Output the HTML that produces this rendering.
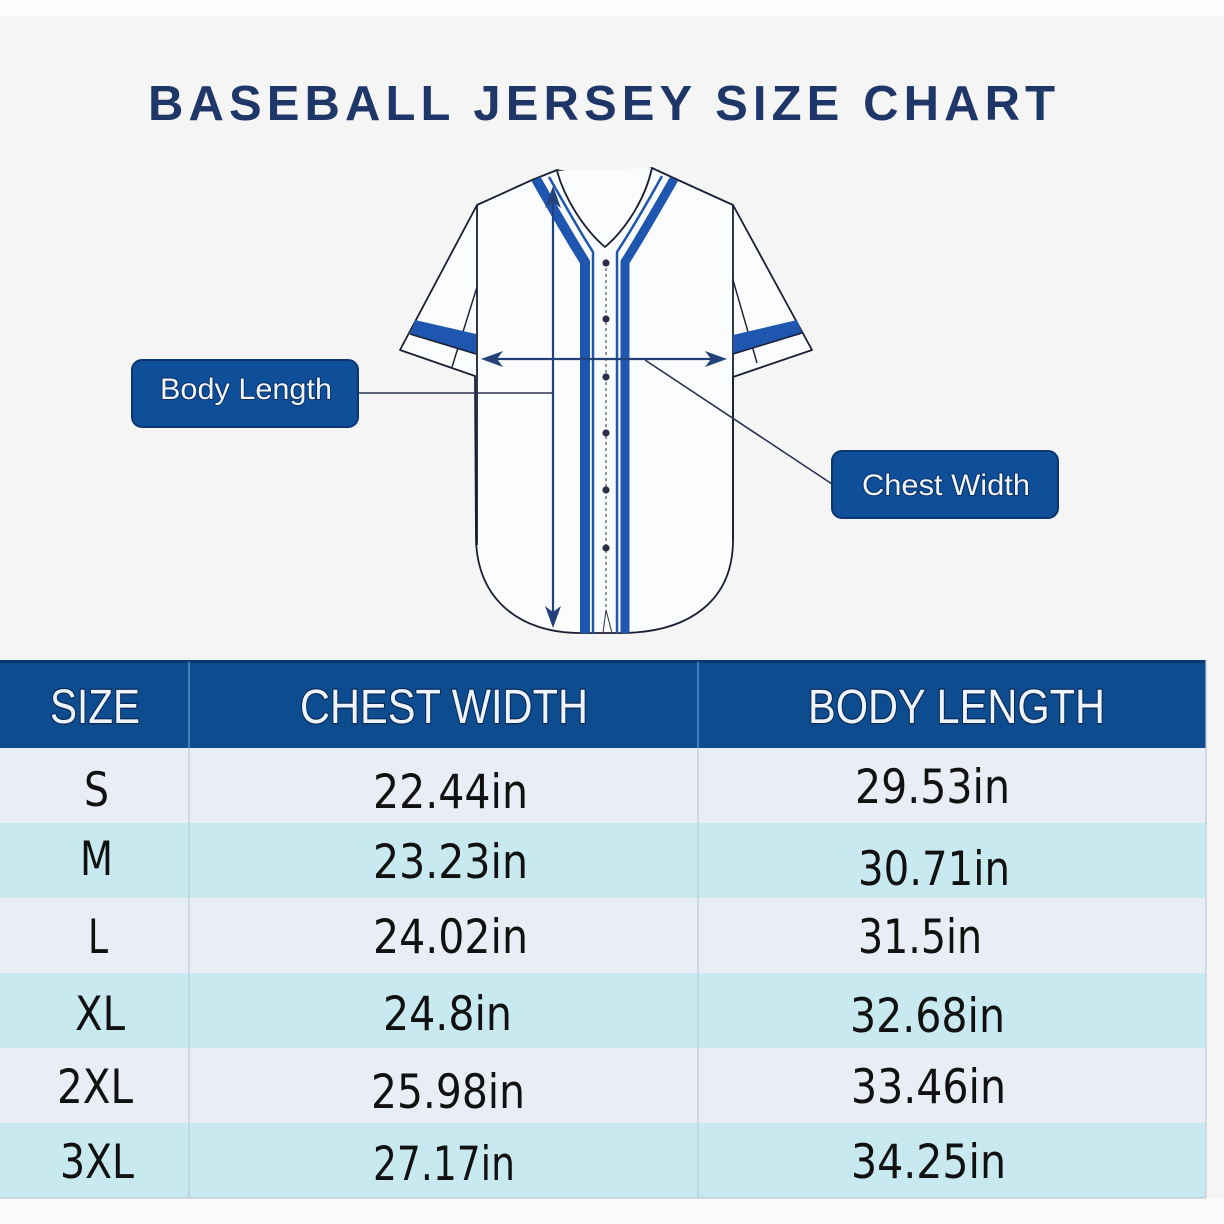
<!DOCTYPE html>
<html>
<head>
<meta charset="utf-8">
<style>
html,body{margin:0;padding:0;background:#f5f5f5;}
svg{display:block;}
.t{font-family:"DejaVu Sans Condensed","DejaVu Sans","Liberation Sans",sans-serif;font-stretch:condensed;font-size:47px;fill:#111;}
.h{font-family:"Liberation Sans Narrow","Liberation Sans",sans-serif;font-size:48px;fill:#eef4fb;stroke:#0a2a58;stroke-width:2.5px;paint-order:stroke;}
.c{font-family:"Liberation Sans",sans-serif;font-size:30px;fill:#f2f6fb;stroke:#08306a;stroke-width:2px;paint-order:stroke;}
</style>
</head>
<body>
<svg width="1224" height="1224" viewBox="0 0 1224 1224" xmlns="http://www.w3.org/2000/svg">
  <rect x="0" y="0" width="1224" height="1224" fill="#f5f5f5"/>
  <rect x="0" y="0" width="1224" height="16" fill="#fdfdfd"/>
  <rect x="0" y="1198" width="1224" height="26" fill="#fafafa"/>

  <!-- Title -->
  <text x="148" y="120" textLength="907" lengthAdjust="spacing" font-family="Liberation Sans, sans-serif" font-weight="bold" font-size="49" fill="#1e3768">BASEBALL JERSEY SIZE CHART</text>

  <!-- Jersey -->
  <g stroke="#1a1f33" stroke-width="1.8" fill="#fbfcfd" stroke-linejoin="round">
    <path d="M532,180 L477,205 L400,350 L475,376 L476,540 C478,600 520,633 580,633 L620,633 C690,633 733,600 733,540 L733,377 L812,350 L733,205 L678,180 L652,168 C630,176 580,176 557,170 Z"/>
    <line x1="477" y1="205" x2="477" y2="545"/>
    <line x1="733" y1="205" x2="733" y2="540"/>
    <line x1="477" y1="287" x2="452" y2="367" stroke-width="1.4"/>
    <line x1="733" y1="280" x2="757" y2="363" stroke-width="1.4"/>
    <path d="M557,171 C565,200 585,230 605,247 C625,230 645,200 652,168" fill="#fbfcfd"/>
  </g>
  <!-- sleeve bands -->
  <polygon points="415,320 476,334 476,354 410,334" fill="#1f56b0"/>
  <polygon points="733,335 797,320 802,333 733,354" fill="#1f56b0"/>
  <g stroke="#1a1f33" stroke-width="1.5" fill="none">
    <line x1="410" y1="334" x2="476" y2="354"/>
    <line x1="733" y1="354" x2="802" y2="333"/>
  </g>
  <!-- collar & placket -->
  <g fill="none" stroke="#1f56b0" stroke-linejoin="round">
    <path d="M536,179 C552,207 568,235 585,262 L585,633" stroke-width="10"/>
    <path d="M674,179 C658,207 642,235 625,262 L625,633" stroke-width="9"/>
    <path d="M549,177 C565,205 580,232 593,252 L593,633" stroke-width="2.5"/>
    <path d="M662,176 C646,205 630,232 617,252 L617,633" stroke-width="2.5"/>
  </g>
  <line x1="606" y1="262" x2="606" y2="615" stroke="#333" stroke-width="1" stroke-dasharray="3,3"/>
  <g fill="#2a2f45">
    <circle cx="606" cy="263" r="3.6"/>
    <circle cx="606" cy="319" r="3.6"/>
    <circle cx="606" cy="377" r="3.6"/>
    <circle cx="606" cy="433" r="3.6"/>
    <circle cx="606" cy="490" r="3.6"/>
    <circle cx="606" cy="548" r="3.6"/>
  </g>
  <path d="M606,610 L603,633 M606,610 L612,633" stroke="#333" stroke-width="1" fill="none"/>

  <!-- measurement arrows -->
  <g stroke="#24427a" stroke-width="2.2" fill="none">
    <line x1="553" y1="195" x2="553" y2="620"/>
    <line x1="490" y1="359" x2="718" y2="359"/>
  </g>
  <g fill="#24427a">
    <path d="M553,186 L545,208 L553,202 L561,208 Z"/>
    <path d="M553,628 L545,606 L553,612 L561,606 Z"/>
    <path d="M481,359 L503,351 L497,359 L503,367 Z"/>
    <path d="M727,359 L705,351 L711,359 L705,367 Z"/>
  </g>

  <!-- callout lines -->
  <line x1="359" y1="393" x2="553" y2="393" stroke="#2a3350" stroke-width="1.6"/>
  <line x1="645" y1="360" x2="832" y2="484" stroke="#2a3350" stroke-width="1.6"/>

  <!-- callouts -->
  <rect x="132" y="360" width="226" height="67" rx="10" fill="#0f4f99" stroke="#0a3570" stroke-width="2"/>
  <text class="c" x="160" y="399" textLength="172" lengthAdjust="spacingAndGlyphs">Body Length</text>
  <rect x="832" y="451" width="226" height="67" rx="10" fill="#0f4f99" stroke="#0a3570" stroke-width="2"/>
  <text class="c" x="862" y="495" textLength="168" lengthAdjust="spacingAndGlyphs">Chest Width</text>

  <!-- Table header -->
  <rect x="0" y="660" width="1206" height="88" fill="#0e4c90"/>
  <rect x="0" y="660" width="1206" height="3" fill="#0a3a74"/>
  <line x1="189" y1="662" x2="189" y2="748" stroke="#5a8cc8" stroke-width="1.5"/>
  <line x1="698" y1="662" x2="698" y2="748" stroke="#5a8cc8" stroke-width="1.5"/>
  <text class="h" x="50" y="723" textLength="90" lengthAdjust="spacingAndGlyphs">SIZE</text>
  <text class="h" x="300" y="723" textLength="288" lengthAdjust="spacingAndGlyphs">CHEST WIDTH</text>
  <text class="h" x="808" y="723" textLength="297" lengthAdjust="spacingAndGlyphs">BODY LENGTH</text>

  <!-- Rows -->
  <rect x="0" y="748" width="1206" height="75" fill="#e9eef6"/>
  <rect x="0" y="823" width="1206" height="75" fill="#c9e9f1"/>
  <rect x="0" y="898" width="1206" height="75" fill="#e9eef6"/>
  <rect x="0" y="973" width="1206" height="75" fill="#c9e9f1"/>
  <rect x="0" y="1048" width="1206" height="75" fill="#e9eef6"/>
  <rect x="0" y="1123" width="1206" height="75" fill="#c9e9f1"/>
  <g stroke="#bccad4" stroke-width="1.2">
    <line x1="189" y1="748" x2="189" y2="1198"/>
    <line x1="698" y1="748" x2="698" y2="1198"/>
    <line x1="1206" y1="660" x2="1206" y2="1198"/>
    <line x1="0" y1="1198" x2="1206" y2="1198"/>
  </g>

  <text class="t" x="84" y="806" textLength="25" lengthAdjust="spacingAndGlyphs">S</text>
  <text class="t" x="373" y="808" textLength="155" lengthAdjust="spacingAndGlyphs">22.44in</text>
  <text class="t" x="855" y="803" textLength="155" lengthAdjust="spacingAndGlyphs">29.53in</text>

  <text class="t" x="80" y="875" textLength="33" lengthAdjust="spacingAndGlyphs">M</text>
  <text class="t" x="373" y="878" textLength="155" lengthAdjust="spacingAndGlyphs">23.23in</text>
  <text class="t" x="858" y="885" textLength="152" lengthAdjust="spacingAndGlyphs">30.71in</text>

  <text class="t" x="88" y="953" textLength="20" lengthAdjust="spacingAndGlyphs">L</text>
  <text class="t" x="373" y="953" textLength="155" lengthAdjust="spacingAndGlyphs">24.02in</text>
  <text class="t" x="858" y="953" textLength="124" lengthAdjust="spacingAndGlyphs">31.5in</text>

  <text class="t" x="75" y="1030" textLength="50" lengthAdjust="spacingAndGlyphs">XL</text>
  <text class="t" x="383" y="1030" textLength="129" lengthAdjust="spacingAndGlyphs">24.8in</text>
  <text class="t" x="850" y="1032" textLength="155" lengthAdjust="spacingAndGlyphs">32.68in</text>

  <text class="t" x="57" y="1103" textLength="76" lengthAdjust="spacingAndGlyphs">2XL</text>
  <text class="t" x="371" y="1108" textLength="154" lengthAdjust="spacingAndGlyphs">25.98in</text>
  <text class="t" x="851" y="1103" textLength="155" lengthAdjust="spacingAndGlyphs">33.46in</text>

  <text class="t" x="60" y="1178" textLength="74" lengthAdjust="spacingAndGlyphs">3XL</text>
  <text class="t" x="373" y="1180" textLength="142" lengthAdjust="spacingAndGlyphs">27.17in</text>
  <text class="t" x="851" y="1178" textLength="155" lengthAdjust="spacingAndGlyphs">34.25in</text>
</svg>
</body>
</html>
